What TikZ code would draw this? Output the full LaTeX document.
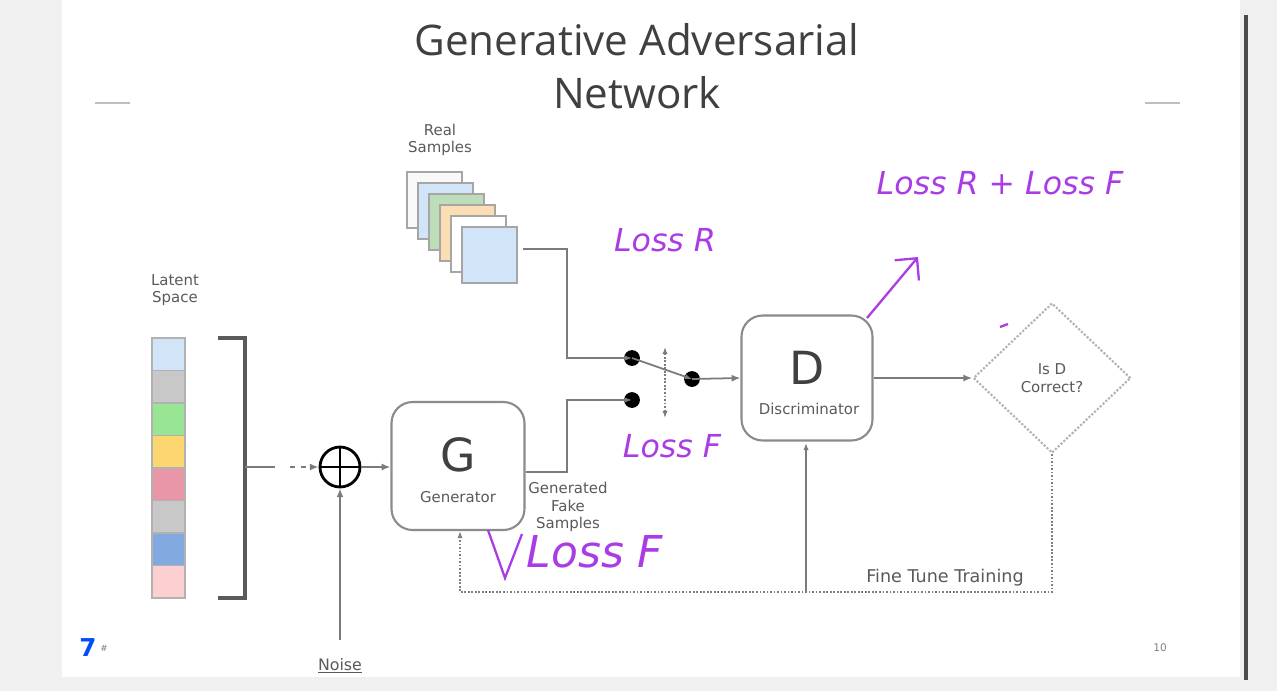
\documentclass[tikz,border=0pt]{standalone}
\usepackage{fontspec}
\setmainfont{DejaVu Sans}
\newfontfamily\titlef{Open Sans}
\usetikzlibrary{arrows.meta,shapes.geometric}
\definecolor{pen}{RGB}{170,60,230}
\definecolor{ln}{RGB}{90,90,90}
\definecolor{lblue}{RGB}{210,228,248}
\definecolor{lgreen}{RGB}{190,222,185}
\definecolor{lorange}{RGB}{252,222,180}
\definecolor{lgrey}{RGB}{200,200,200}
\definecolor{lyellow}{RGB}{252,214,110}
\definecolor{lred}{RGB}{232,150,168}
\definecolor{mblue}{RGB}{130,170,225}
\definecolor{lpink}{RGB}{252,208,208}
\tikzset{x=0.02cm,y=-0.02cm,
 lbl/.style={font=\fontsize{8.5}{10}\selectfont,text=ln,align=center},
 box/.style={draw=ln!70,line width=1.2pt,rounded corners=12pt,fill=white},
 wire/.style={draw=ln!80,line width=1pt},
 arr/.style={wire,-{Latex[length=5pt,width=4pt]}},
 hand/.style={text=pen,font=\itshape\fontsize{18}{20}\selectfont},
 cell/.style={draw=gray!60,line width=0.6pt},
 samp/.style={draw=gray!70,line width=1pt}}
\begin{document}
\begin{tikzpicture}
\useasboundingbox (0,0) rectangle (1277,691);
\fill[gray!12] (0,0) rectangle (1277,691);
\fill[white] (62,0) rectangle (1240,677);
\draw[gray!60!black,line width=2pt] (1246,15) -- (1246,680);
% title
\node[font=\titlef\fontsize{24}{30}\selectfont,text=black!75,align=center] (title) at (637,66) {Generative Adversarial\\Network};
\draw[gray!50,line width=1pt] (95,103) -- (130,103) (1145,103) -- (1180,103);
% real samples
\node[lbl] (rs) at (440,140) {Real\\Samples};
\foreach \i/\c in {0/gray!5,1/lblue,2/lgreen,3/lorange,4/white,5/lblue}{
 \draw[samp,fill=\c] (407+11*\i,172+11*\i) rectangle (462+11*\i,228+11*\i);}
\coordinate (rsout) at (523,249);
% latent
\node[lbl] (lat) at (175,290) {Latent\\Space};
\foreach \i/\c in {0/lblue,1/lgrey,2/lgreen!80!green,3/lyellow,4/lred,5/lgrey,6/mblue,7/lpink}{
 \draw[cell,fill=\c] (152,338+32.5*\i) rectangle (185,370.5+32.5*\i);}
\draw[ln,line width=2pt] (218,338) -- (245,338) -- (245,598) -- (218,598);
\coordinate (brk) at (245,467);
\node[circle,draw=black,line width=1.6pt,minimum size=0.8cm,inner sep=0] (plus) at (340,467) {};
\draw[line width=1.6pt] (plus.north) -- (plus.south) (plus.west) -- (plus.east);
\draw[wire] (brk) -- (275,467);
\draw[arr,dashed] (290,467) -- (plus.west);
\node[lbl,font=\fontsize{9}{10}\selectfont] (noise) at (340,666) {\underline{Noise}};
\draw[arr] (340,640) -- (plus.south);
% generator
\node[box,minimum width=2.66cm,minimum height=2.56cm] (G) at (458,466) {};
\node[font=\fontsize{26}{28}\selectfont,text=black!75] (Gl) at (458,455) {G};
\node[lbl] (Gt) at (458,497) {Generator};
\draw[arr] (plus.east) -- (plus.east -| G.west);
\node[lbl] (gfs) at (568,507) {Generated\\Fake\\Samples};
% switch
\fill (632,358) circle (4.5pt) coordinate (s1);
\fill (632,400) circle (4.5pt) coordinate (s2);
\fill (692,379) circle (4.5pt) coordinate (s3);
\draw[wire,-{Latex[length=4pt]}] (rsout) -- (567,249) -- (567,358) -- (s1);
\draw[wire,-{Latex[length=4pt]}] (G.east |- 0,472) -- (567,472) -- (567,400) -- (s2);
\draw[wire,-{Latex[length=4pt]}] (s1) -- (s3);
\draw[wire,densely dotted,{Latex[length=4pt]}-{Latex[length=4pt]}] (665,347) -- (665,418);
% discriminator
\node[box,minimum width=2.62cm,minimum height=2.5cm] (D) at (807,378) {};
\node[font=\fontsize{26}{28}\selectfont,text=black!75] (Dl) at (807,368) {D};
\node[lbl] (Dt) at (809,409) {Discriminator};
\draw[arr] (s3) -- (D.west);
\node[diamond,draw=gray!60,densely dotted,line width=1.2pt,minimum width=3.15cm,minimum height=3cm,inner sep=0] (Q) at (1052,378) {};
\node[lbl] (Qt) at (1052,378) {Is D\\Correct?};
\draw[arr] (D.east) -- (Q.west);
% feedback
\coordinate (c1) at (1052,592);
\coordinate (c2) at (460,592);
\coordinate (c3) at (806,592);
\draw[wire,densely dotted,gray,-{Latex[length=4pt]}] (Q.south) -- (c1) -- (c2) -- (c2 |- G.south);
\draw[wire,-{Latex[length=4pt]}] (c3) -- (806,443);
\node[lbl,font=\fontsize{10}{12}\selectfont] (ftt) at (945,578) {Fine Tune Training};
% footer
\node[text=blue!70!cyan,font=\bfseries\fontsize{14}{14}\selectfont] (logo) at (88,648) {7};
\node[text=gray,font=\fontsize{5}{6}\selectfont] (ls) at (104,648) {\#};
\node[text=gray,font=\fontsize{6}{6}\selectfont] (pg) at (1160,648) {10};
% handwriting
\node[hand] (h1) at (665,240) {Loss R};
\node[hand] (h2) at (1000,183) {Loss R + Loss F};
\node[hand] (h3) at (672,446) {Loss F};
\node[hand,font=\itshape\fontsize{25}{28}\selectfont] (h4) at (595,552) {Loss F};
\draw[pen,line width=1.3pt] (488,530) -- (505,578) -- (522,534);
\draw[pen,line width=1.3pt,-{Straight Barb[length=9pt]}] (867,318) -- (918,257);
\draw[pen,line width=1.3pt] (1000,327) -- (1008,324);
\end{tikzpicture}
\end{document}
